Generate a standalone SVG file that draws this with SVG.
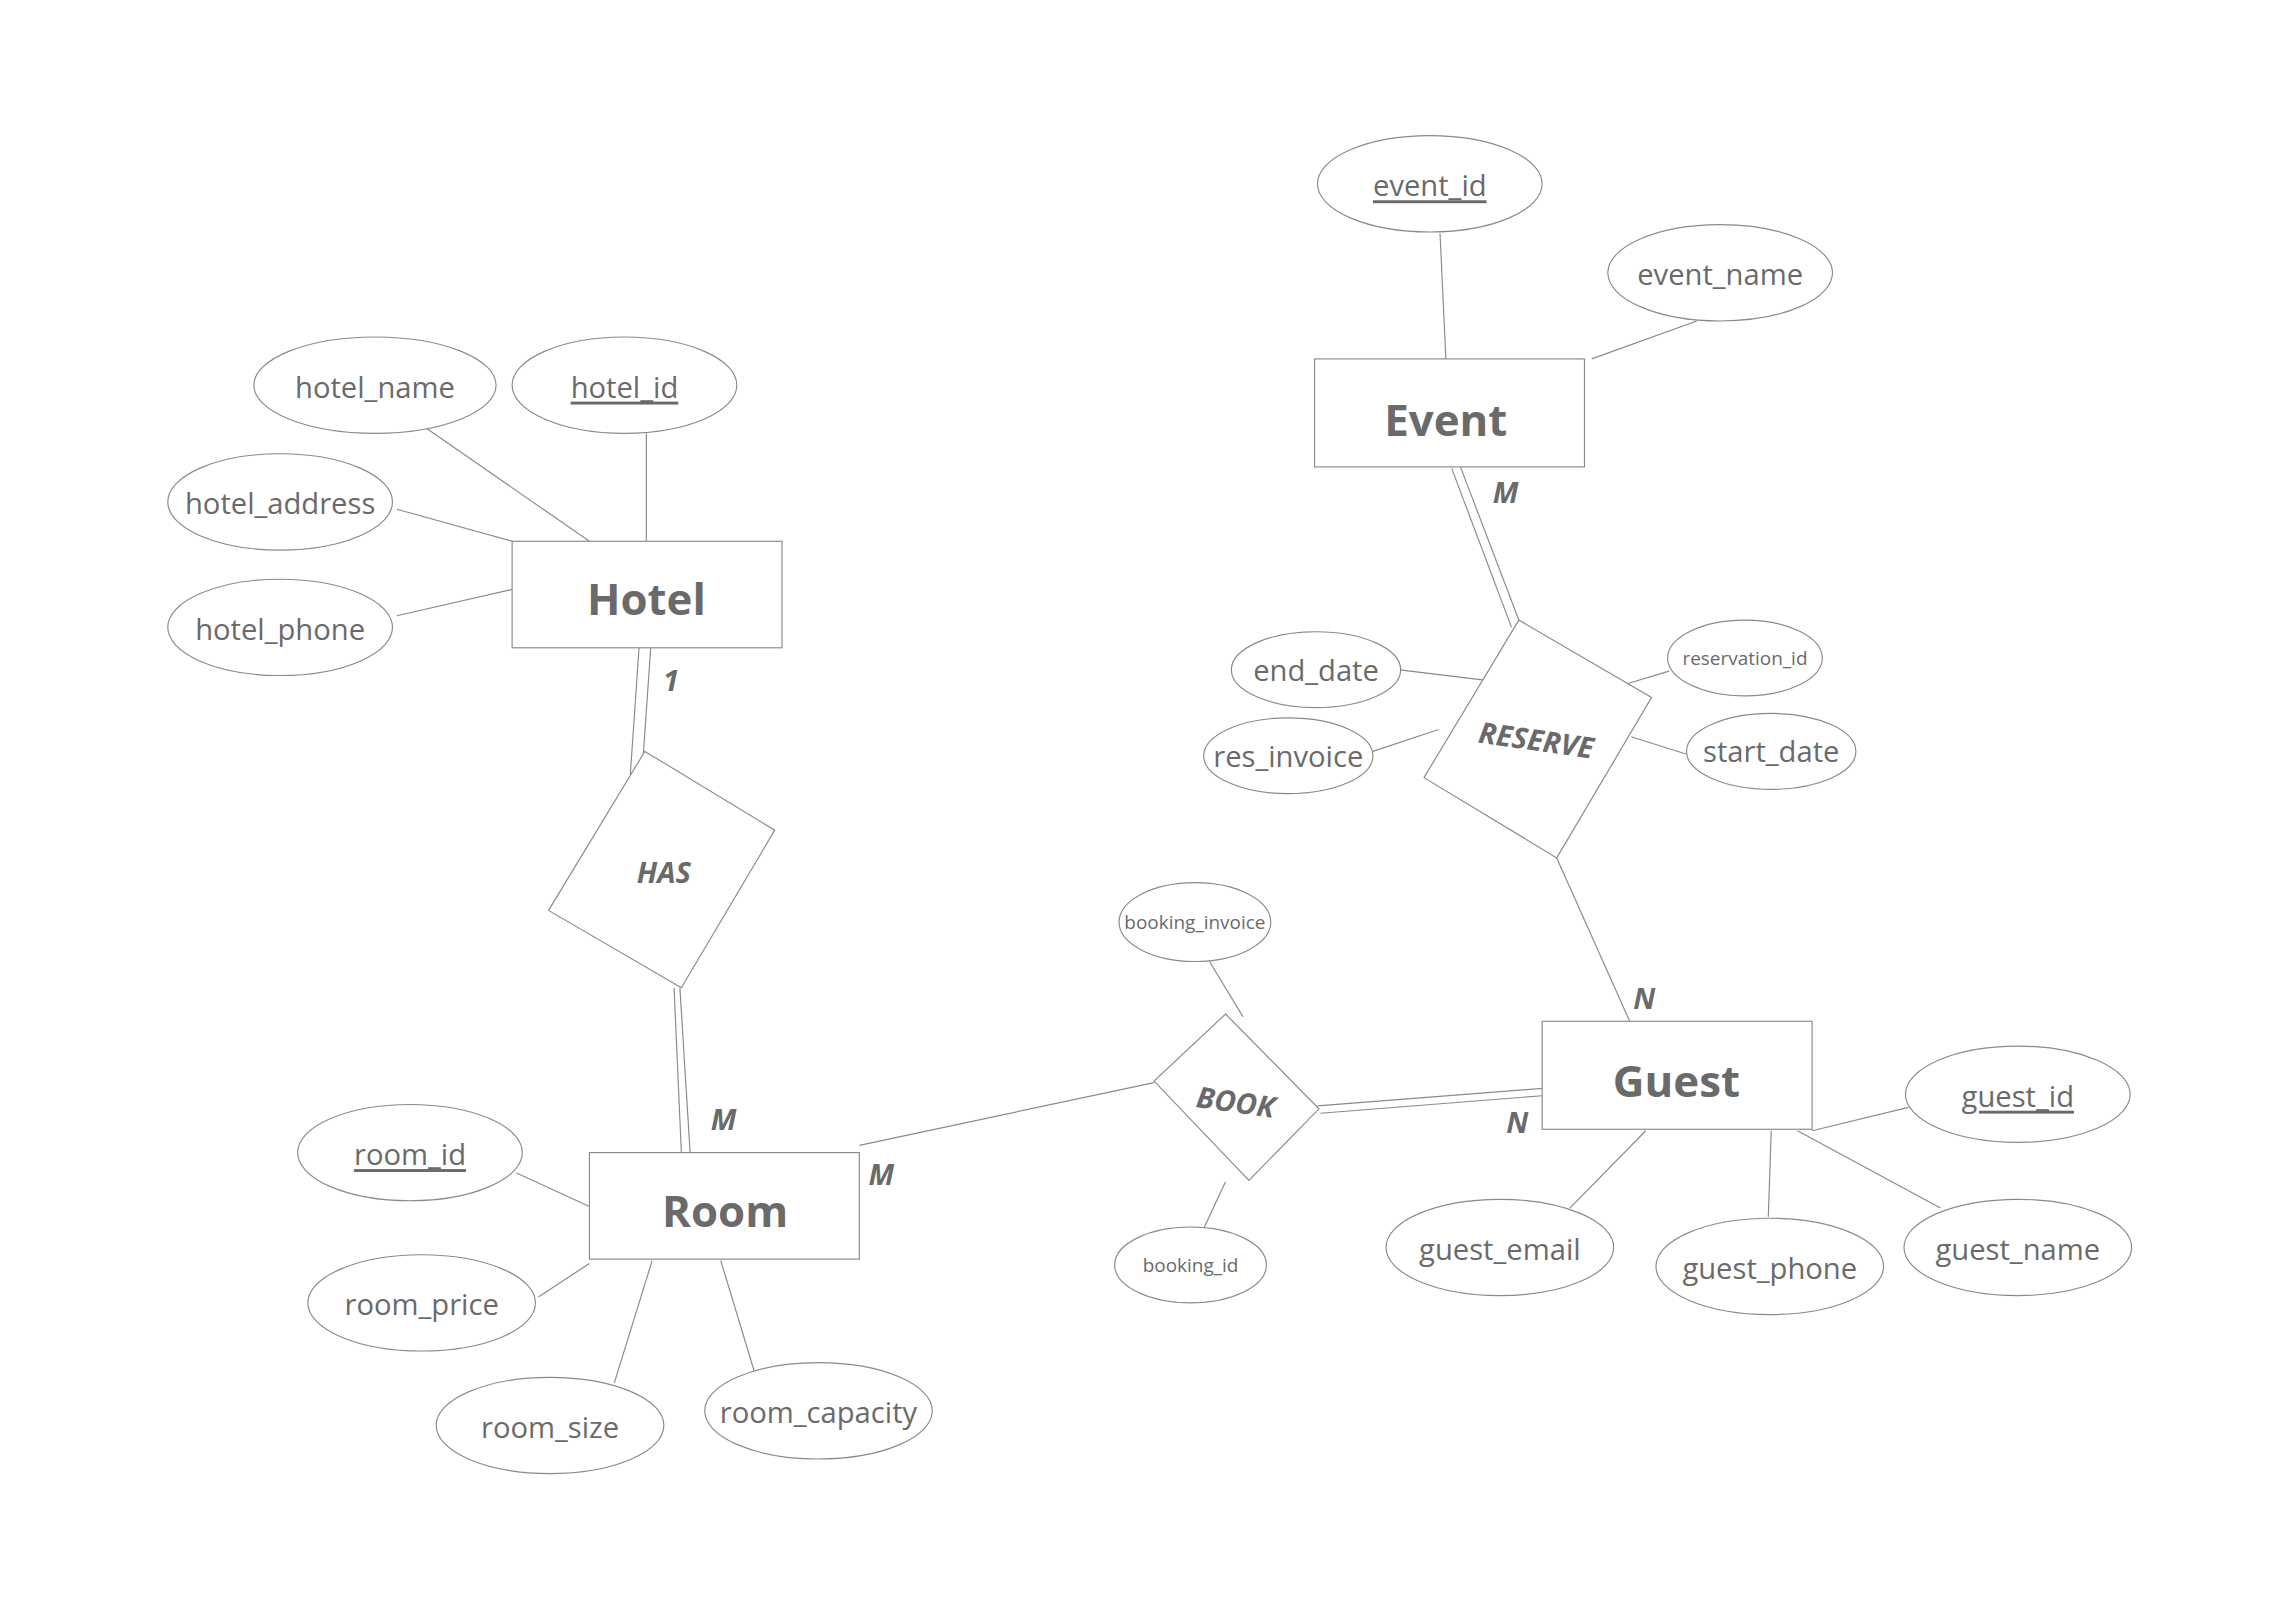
<svg xmlns="http://www.w3.org/2000/svg" width="2276" height="1599" viewBox="0 0 2276 1599">
<style>
.s{fill:#fff;stroke:#8a8a8a;stroke-width:0.8}
.l{stroke:#8a8a8a;stroke-width:0.8;fill:none}
.t{font-family:"Open Sans","Noto Sans",sans-serif;fill:#6a6a6a;text-anchor:middle;dominant-baseline:central;font-size:20px}
.sm{font-size:13px}
.e{font-weight:bold;font-size:30px}
.r{font-weight:bold;font-style:italic}
.u{text-decoration:underline}
</style>
<rect width="2276" height="1599" fill="#fff"/>
<g transform="scale(1.459)">
<g id="connectors">
<line class="l" x1="987" y1="160" x2="991" y2="246"/>
<line class="l" x1="1163" y1="220" x2="1091" y2="246"/>
<line class="l" x1="290" y1="292" x2="404" y2="371"/>
<line class="l" x1="443" y1="297" x2="443" y2="371"/>
<line class="l" x1="272" y1="349" x2="351" y2="371"/>
<line class="l" x1="272" y1="422" x2="351" y2="404"/>
<line class="l" x1="438" y1="444" x2="432" y2="531"/>
<line class="l" x1="446" y1="444" x2="441" y2="516"/>
<line class="l" x1="462" y1="677" x2="467" y2="790"/>
<line class="l" x1="466" y1="677" x2="473" y2="790"/>
<line class="l" x1="354" y1="804" x2="404" y2="827"/>
<line class="l" x1="369" y1="889" x2="404" y2="866"/>
<line class="l" x1="421" y1="948" x2="447" y2="864"/>
<line class="l" x1="517" y1="940" x2="494" y2="864"/>
<line class="l" x1="589" y1="785" x2="791" y2="742"/>
<line class="l" x1="829" y1="659" x2="852" y2="697"/>
<line class="l" x1="825" y1="842" x2="840" y2="810"/>
<line class="l" x1="903" y1="758" x2="1057" y2="746"/>
<line class="l" x1="905" y1="763" x2="1057" y2="751"/>
<line class="l" x1="1308" y1="759" x2="1242" y2="775"/>
<line class="l" x1="1076" y1="828" x2="1128" y2="775"/>
<line class="l" x1="1212" y1="834" x2="1214" y2="775"/>
<line class="l" x1="1330" y1="828" x2="1232" y2="775"/>
<line class="l" x1="995" y1="321" x2="1036" y2="430"/>
<line class="l" x1="1001" y1="320" x2="1041" y2="425"/>
<line class="l" x1="1067" y1="588" x2="1117" y2="700"/>
<line class="l" x1="958" y1="459" x2="1016" y2="466"/>
<line class="l" x1="941" y1="515" x2="986" y2="500"/>
<line class="l" x1="1144" y1="460" x2="1114" y2="469"/>
<line class="l" x1="1156" y1="517" x2="1118" y2="505"/>
<text class="t r" x="460" y="466" font-size="18">1</text>
<text class="t r" x="496" y="767" font-size="18">M</text>
<text class="t r" x="604" y="805" font-size="18">M</text>
<text class="t r" x="1040" y="769" font-size="18">N</text>
<text class="t r" x="1032" y="337" font-size="18">M</text>
<text class="t r" x="1127" y="684" font-size="18">N</text>
</g>
<g id="event"><rect class="s" x="901" y="246" width="185" height="74"/><text class="t e" x="991" y="287">Event</text></g>
<g id="event_id"><ellipse class="s" cx="980" cy="126" rx="77" ry="33"/><text class="t u" x="980" y="127">event_id</text></g>
<g id="event_name"><ellipse class="s" cx="1179" cy="187" rx="77" ry="33"/><text class="t" x="1179" y="188">event_name</text></g>
<g id="hotel"><rect class="s" x="351" y="371" width="185" height="73"/><text class="t e" x="443" y="410">Hotel</text></g>
<g id="hotel_name"><ellipse class="s" cx="257" cy="264" rx="83" ry="33"/><text class="t" x="257" y="265">hotel_name</text></g>
<g id="hotel_id"><ellipse class="s" cx="428" cy="264" rx="77" ry="33"/><text class="t u" x="428" y="265">hotel_id</text></g>
<g id="hotel_address"><ellipse class="s" cx="192" cy="344" rx="77" ry="33"/><text class="t" x="192" y="345">hotel_address</text></g>
<g id="hotel_phone"><ellipse class="s" cx="192" cy="430" rx="77" ry="33"/><text class="t" x="192" y="431">hotel_phone</text></g>
<g id="has"><polygon class="s" points="442,515 531,569 467,677 376,624"/><text class="t r" x="455" y="598" font-size="30">HAS</text></g>
<g id="room"><rect class="s" x="404" y="790" width="185" height="73"/><text class="t e" x="497" y="829">Room</text></g>
<g id="room_id"><ellipse class="s" cx="281" cy="790" rx="77" ry="33"/><text class="t u" x="281" y="791">room_id</text></g>
<g id="room_price"><ellipse class="s" cx="289" cy="893" rx="78" ry="33"/><text class="t" x="289" y="894">room_price</text></g>
<g id="room_size"><ellipse class="s" cx="377" cy="977" rx="78" ry="33"/><text class="t" x="377" y="978">room_size</text></g>
<g id="room_capacity"><ellipse class="s" cx="561" cy="967" rx="78" ry="33"/><text class="t" x="561" y="968">room_capacity</text></g>
<g id="book"><polygon class="s" points="840,695 904,760 856,809 791,741"/><text class="t r" x="847" y="755" transform="rotate(8 847 755)">BOOK</text></g>
<g id="booking_invoice"><ellipse class="s" cx="819" cy="632" rx="52" ry="27"/><text class="t sm" x="819" y="632">booking_invoice</text></g>
<g id="booking_id"><ellipse class="s" cx="816" cy="867" rx="52" ry="26"/><text class="t sm" x="816" y="867">booking_id</text></g>
<g id="guest"><rect class="s" x="1057" y="700" width="185" height="74"/><text class="t e" x="1149" y="740">Guest</text></g>
<g id="guest_id"><ellipse class="s" cx="1383" cy="750" rx="77" ry="33"/><text class="t u" x="1383" y="751">guest_id</text></g>
<g id="guest_email"><ellipse class="s" cx="1028" cy="855" rx="78" ry="33"/><text class="t" x="1028" y="856">guest_email</text></g>
<g id="guest_phone"><ellipse class="s" cx="1213" cy="868" rx="78" ry="33"/><text class="t" x="1213" y="869">guest_phone</text></g>
<g id="guest_name"><ellipse class="s" cx="1383" cy="855" rx="78" ry="33"/><text class="t" x="1383" y="856">guest_name</text></g>
<g id="reserve"><polygon class="s" points="1041,425 1132,478 1067,588 976,533"/><text class="t r" x="1053" y="507" transform="rotate(8 1053 507)">RESERVE</text></g>
<g id="end_date"><ellipse class="s" cx="902" cy="459" rx="58" ry="26"/><text class="t" x="902" y="459">end_date</text></g>
<g id="res_invoice"><ellipse class="s" cx="883" cy="518" rx="58" ry="26"/><text class="t" x="883" y="518">res_invoice</text></g>
<g id="reservation_id"><ellipse class="s" cx="1196" cy="451" rx="53" ry="26"/><text class="t sm" x="1196" y="451">reservation_id</text></g>
<g id="start_date"><ellipse class="s" cx="1214" cy="515" rx="58" ry="26"/><text class="t" x="1214" y="515">start_date</text></g>
</g>
</svg>
